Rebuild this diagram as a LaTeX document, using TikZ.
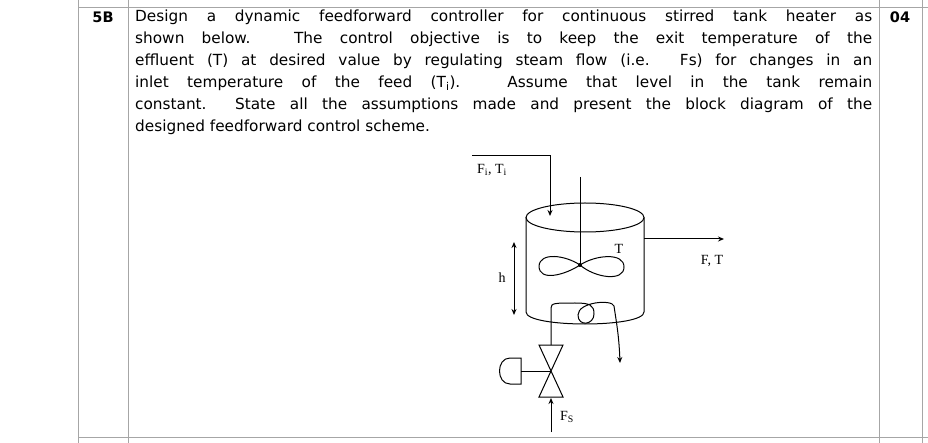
\documentclass[tikz,border=0pt]{standalone}
\usepackage{fontspec}
\setmainfont{DejaVu Sans}
\newfontfamily\tms{Liberation Serif}
\usetikzlibrary{arrows.meta}
\begin{document}
\begin{tikzpicture}[x=1pt,y=-1pt,
  rule/.style={draw=black!35,line width=1pt},
  ln/.style={line width=1pt},
  arr/.style={ln,-{Stealth[length=6pt,width=5pt]}},
  lbl/.style={font=\tms\fontsize{14}{14}\selectfont,inner sep=0pt}]
\fill[white] (0,0) rectangle (928,443);
\useasboundingbox (0,0) rectangle (928,443);
\draw[rule] (78,8) -- (928,8);
\draw[rule] (78,437) -- (928,437);
\draw[rule] (78,0) -- (78,443);
\draw[rule] (128,0) -- (128,443);
\draw[rule] (879,0) -- (879,443);
\draw[rule] (922,0) -- (922,443);
\node[anchor=north,inner sep=0pt,font=\bfseries\fontsize{14.5}{22}\selectfont] (q) at (103,12) {5B};
\node[anchor=north,inner sep=0pt,font=\bfseries\fontsize{14.5}{22}\selectfont] (m) at (900,12) {04};
\node[anchor=north west,inner sep=0pt,text width=737pt,align=justify,font=\fontsize{15.3}{22}\selectfont] (t) at (135,10) {Design a dynamic feedforward controller for continuous stirred tank heater as\linebreak shown below. The control objective is to keep the exit temperature of the\linebreak effluent (T) at desired value by regulating steam flow (i.e. Fs) for changes in an\linebreak inlet temperature of the feed (T\textsubscript{i}). Assume that level in the tank remain\linebreak constant.\ \ State all the assumptions made and present the block diagram of the\linebreak designed feedforward control scheme.\par};
% tank
\coordinate (in0) at (472,156);
\coordinate (in1) at (550,156);
\coordinate (in2) at (550,216);
\draw[arr] (in0) -- (in1) -- (in2);
\node[lbl] (fi) at (492,170) {F\textsubscript{i}, T\textsubscript{i}};
\draw[ln] (585,217.5) ellipse [x radius=59pt,y radius=14.5pt];
\draw[ln] (526,217.5) -- (526,312) .. controls (526,328) and (644,328) .. (644,312) -- (644,217.5);
\coordinate (sh0) at (580,177);
\coordinate (hub) at (580,265);
\draw[ln] (sh0) -- (hub);
\fill (hub) circle (2pt);
\draw[ln] (hub) .. controls (565,255) and (540,252) .. (539,266) .. controls (539,282) and (565,275) .. (hub)
  .. controls (595,255) and (624,252) .. (624,267) .. controls (624,282) and (595,278) .. (hub);
\node[lbl] (T) at (619,249) {T};
\coordinate (o0) at (644,239);
\coordinate (o1) at (724,239);
\draw[arr] (o0) -- (o1);
\node[lbl] (FT) at (712,261) {F, T};
\coordinate (h0) at (514,315);
\coordinate (h1) at (514,242);
\draw[ln,{Stealth[length=6pt,width=5pt]}-{Stealth[length=6pt,width=5pt]}] (h0) -- (h1);
\node[lbl] (h) at (502,278) {h};
% coil
\coordinate (v0) at (551,345);
\coordinate (c9) at (620,363);
\draw[ln] (v0) -- (551,308) .. controls (551,303) and (555,303) .. (575,303)
  .. controls (590,303) and (594,305) .. (594,314) .. controls (594,325) and (578,327) .. (578,315)
  .. controls (578,302) and (612,299) .. (614,306);
\draw[arr] (614,306) .. controls (616,320) and (619,335) .. (c9);
% valve
\draw[ln] (539,345) -- (563,345) -- (539,397) -- (563,397) -- cycle;
\draw[ln] (551,371) -- (521,371);
\draw[ln] (521,358) -- (521,384) -- (510,384) .. controls (496,384) and (496,358) .. (510,358) -- cycle;
\coordinate (fs0) at (551,432);
\coordinate (fs1) at (551,398);
\draw[arr] (fs0) -- (fs1);
\node[lbl] (FS) at (567,417) {F\textsubscript{S}};
\end{tikzpicture}
\end{document}
